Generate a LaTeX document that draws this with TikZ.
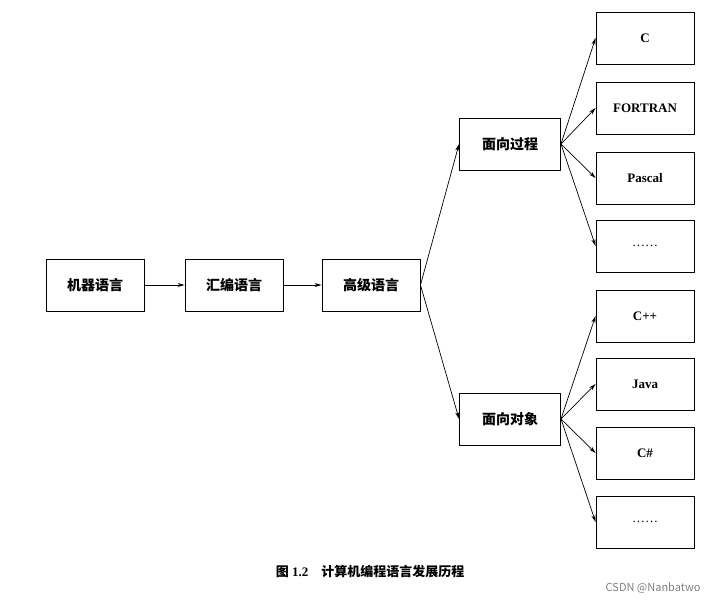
\documentclass[tikz,border=0pt]{standalone}
\usepackage{fontspec}
\setmainfont{Liberation Serif}
\newfontfamily\cjk{Noto Sans CJK SC}
\usetikzlibrary{arrows.meta}
\begin{document}
\begin{tikzpicture}[x=1pt,y=-1pt,
  box/.style={draw,line width=0.9pt,minimum width=98pt,minimum height=52pt,inner sep=0pt,font=\bfseries\fontsize{13}{15}\selectfont},
  cbox/.style={box,font=\cjk\bfseries\fontsize{14}{16}\selectfont},
  arr/.style={-{Stealth[length=7pt,width=4pt]},line width=0.7pt}]
\useasboundingbox[fill=white] (0,0) rectangle (708,602);
\node[cbox] (m) at (95,285) {机器语言};
\node[cbox] (h) at (234,285) {汇编语言};
\node[cbox] (g) at (371,285) {高级语言};
\node[cbox,minimum width=101pt] (p) at (510,144) {面向过程};
\node[cbox,minimum width=101pt] (o) at (510,419) {面向对象};
\node[box] (c) at (645,38) {C};
\node[box] (f) at (645,108) {FORTRAN};
\node[box] (pa) at (645,178) {Pascal};
\node[box] (d1) at (645,246) {\mdseries ……};
\node[box] (cp) at (645,316) {C++};
\node[box] (j) at (645,384) {Java};
\node[box] (cs) at (645,453) {C\#};
\node[box] (d2) at (645,522) {\mdseries ……};
\draw[arr] (m) -- (h);
\draw[arr] (h) -- (g);
\draw[arr] (g.east) -- (p.west);
\draw[arr] (g.east) -- (o.west);
\foreach \t in {c,f,pa,d1} \draw[arr] (p.east) -- (\t.west);
\foreach \t in {cp,j,cs,d2} \draw[arr] (o.east) -- (\t.west);
\node[font=\bfseries\fontsize{13}{15}\selectfont] (cap) at (370,572) {{\cjk 图} 1.2\quad{\cjk 计算机编程语言发展历程}};
\node[font=\cjk\fontsize{11}{13}\selectfont,text=gray,anchor=east] (wm) at (704,588) {CSDN @Nanbatwo};
\end{tikzpicture}
\end{document}
